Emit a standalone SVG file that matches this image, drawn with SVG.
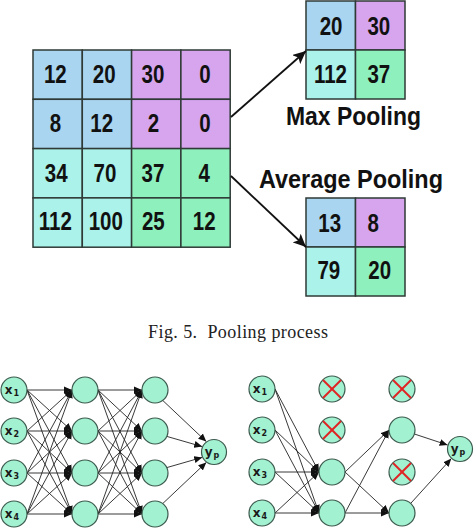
<svg xmlns="http://www.w3.org/2000/svg" width="474" height="530" viewBox="0 0 474 530">
<style>
.c{stroke:#2f3a36;stroke-width:1.5}
.b{fill:#a9d5f0}.p{fill:#d6a5ee}.t{fill:#aaf2ea}.g{fill:#8ef0bd}
.n{font-family:"Liberation Sans",Arial,sans-serif;font-weight:bold;font-size:25px;text-anchor:middle;fill:#111}
.lbl{font-family:"Liberation Sans",Arial,sans-serif;font-weight:bold;font-size:25px;fill:#111}
.cap{font-family:"Liberation Serif","Times New Roman",serif;font-size:18px;fill:#222}
.nd{fill:#a2f1d1;stroke:#3c5a4e;stroke-width:1.2}
.nl{font-family:"DejaVu Sans","Liberation Sans",sans-serif;font-weight:bold;font-size:12px;fill:#1a1a1a;text-anchor:middle}
.e{stroke:#222;stroke-width:0.9;fill:none;marker-end:url(#ah)}
.x{stroke:#e02424;stroke-width:2}
.big{stroke:#111;stroke-width:1.8;fill:none;marker-end:url(#bh)}
</style>
<defs>
<marker id="ah" markerUnits="userSpaceOnUse" markerWidth="9" markerHeight="8" refX="8" refY="4" orient="auto"><path d="M0,0.5 L8,4 L0,7.5 Z" fill="#111"/></marker>
<marker id="bh" markerUnits="userSpaceOnUse" markerWidth="14" markerHeight="12" refX="13" refY="6" orient="auto"><path d="M0,0 L13,6 L0,12 L3,6 Z" fill="#111"/></marker>
</defs>

<g id="input-grid">
<rect class="c b" x="33" y="50" width="49.3" height="49.3"/>
<rect class="c b" x="82.3" y="50" width="49.3" height="49.3"/>
<rect class="c p" x="131.6" y="50" width="49.3" height="49.3"/>
<rect class="c p" x="180.9" y="50" width="49.3" height="49.3"/>
<rect class="c b" x="33" y="99.3" width="49.3" height="49.3"/>
<rect class="c b" x="82.3" y="99.3" width="49.3" height="49.3"/>
<rect class="c p" x="131.6" y="99.3" width="49.3" height="49.3"/>
<rect class="c p" x="180.9" y="99.3" width="49.3" height="49.3"/>
<rect class="c t" x="33" y="148.6" width="49.3" height="49.3"/>
<rect class="c t" x="82.3" y="148.6" width="49.3" height="49.3"/>
<rect class="c g" x="131.6" y="148.6" width="49.3" height="49.3"/>
<rect class="c g" x="180.9" y="148.6" width="49.3" height="49.3"/>
<rect class="c t" x="33" y="197.9" width="49.3" height="49.3"/>
<rect class="c t" x="82.3" y="197.9" width="49.3" height="49.3"/>
<rect class="c g" x="131.6" y="197.9" width="49.3" height="49.3"/>
<rect class="c g" x="180.9" y="197.9" width="49.3" height="49.3"/>
<g transform="scale(0.82,1)">
<text class="n" x="67.5" y="83.3">12</text><text class="n" x="127" y="83.3">20</text><text class="n" x="186.5" y="83.3">30</text><text class="n" x="250" y="83.3">0</text>
<text class="n" x="67.5" y="132">8</text><text class="n" x="124" y="132">12</text><text class="n" x="187" y="132">2</text><text class="n" x="250" y="132">0</text>
<text class="n" x="68.5" y="181.7">34</text><text class="n" x="128" y="181.7">70</text><text class="n" x="186.5" y="181.7">37</text><text class="n" x="249" y="181.7">4</text>
<text class="n" x="67.5" y="230.3">112</text><text class="n" x="129" y="230.3">100</text><text class="n" x="187" y="230.3">25</text><text class="n" x="249" y="230.3">12</text>
</g>
</g>

<g id="max-pool">
<rect class="c b" x="306" y="1" width="49.5" height="49"/>
<rect class="c p" x="355.5" y="1" width="49.5" height="49"/>
<rect class="c t" x="306" y="50" width="49.5" height="49"/>
<rect class="c g" x="355.5" y="50" width="49.5" height="49"/>
<g transform="scale(0.82,1)">
<text class="n" x="403.7" y="35">20</text><text class="n" x="462" y="35">30</text>
<text class="n" x="403" y="83.3">112</text><text class="n" x="462" y="83.3">37</text>
</g>
<text class="lbl" x="286" y="125" textLength="135" lengthAdjust="spacingAndGlyphs">Max Pooling</text>
</g>

<g id="avg-pool">
<rect class="c b" x="306" y="198" width="49.5" height="49"/>
<rect class="c p" x="355.5" y="198" width="49.5" height="49"/>
<rect class="c t" x="306" y="247" width="49.5" height="49"/>
<rect class="c g" x="355.5" y="247" width="49.5" height="49"/>
<g transform="scale(0.82,1)">
<text class="n" x="402" y="231.7">13</text><text class="n" x="455" y="231.7">8</text>
<text class="n" x="401" y="279.3">79</text><text class="n" x="463" y="279.3">20</text>
</g>
<text class="lbl" x="259" y="188" textLength="184" lengthAdjust="spacingAndGlyphs">Average Pooling</text>
</g>

<g id="pool-arrows">
<line class="big" x1="231" y1="117" x2="306" y2="51"/>
<line class="big" x1="231" y1="176" x2="306" y2="247"/>
</g>

<text class="cap" x="148" y="338" textLength="180" lengthAdjust="spacing">Fig. 5.&#160; Pooling process</text>

<g id="connectors">
<line class="e" x1="27" y1="390" x2="72" y2="390"/><line class="e" x1="27" y1="390" x2="72" y2="431"/><line class="e" x1="27" y1="390" x2="72" y2="473"/><line class="e" x1="27" y1="390" x2="72" y2="514"/>
<line class="e" x1="27" y1="431" x2="72" y2="390"/><line class="e" x1="27" y1="431" x2="72" y2="431"/><line class="e" x1="27" y1="431" x2="72" y2="473"/><line class="e" x1="27" y1="431" x2="72" y2="514"/>
<line class="e" x1="27" y1="473" x2="72" y2="390"/><line class="e" x1="27" y1="473" x2="72" y2="431"/><line class="e" x1="27" y1="473" x2="72" y2="473"/><line class="e" x1="27" y1="473" x2="72" y2="514"/>
<line class="e" x1="27" y1="514" x2="72" y2="390"/><line class="e" x1="27" y1="514" x2="72" y2="431"/><line class="e" x1="27" y1="514" x2="72" y2="473"/><line class="e" x1="27" y1="514" x2="72" y2="514"/>
<line class="e" x1="98" y1="390" x2="142" y2="390"/><line class="e" x1="98" y1="390" x2="142" y2="431"/><line class="e" x1="98" y1="390" x2="142" y2="473"/><line class="e" x1="98" y1="390" x2="142" y2="514"/>
<line class="e" x1="98" y1="431" x2="142" y2="390"/><line class="e" x1="98" y1="431" x2="142" y2="431"/><line class="e" x1="98" y1="431" x2="142" y2="473"/><line class="e" x1="98" y1="431" x2="142" y2="514"/>
<line class="e" x1="98" y1="473" x2="142" y2="390"/><line class="e" x1="98" y1="473" x2="142" y2="431"/><line class="e" x1="98" y1="473" x2="142" y2="473"/><line class="e" x1="98" y1="473" x2="142" y2="514"/>
<line class="e" x1="98" y1="514" x2="142" y2="390"/><line class="e" x1="98" y1="514" x2="142" y2="431"/><line class="e" x1="98" y1="514" x2="142" y2="473"/><line class="e" x1="98" y1="514" x2="142" y2="514"/>
<line class="e" x1="162.7" y1="400.4" x2="206.3" y2="441.6"/>
<line class="e" x1="166.8" y1="436.4" x2="202.2" y2="446.6"/>
<line class="e" x1="166.8" y1="467.6" x2="202.2" y2="457.4"/>
<line class="e" x1="162.7" y1="503.6" x2="206.3" y2="462.4"/>
<line class="e" x1="275" y1="389" x2="319" y2="472"/><line class="e" x1="275" y1="389" x2="319" y2="513"/>
<line class="e" x1="275" y1="430" x2="319" y2="472"/><line class="e" x1="275" y1="430" x2="319" y2="513"/>
<line class="e" x1="275" y1="472" x2="319" y2="472"/><line class="e" x1="275" y1="472" x2="319" y2="513"/>
<line class="e" x1="275" y1="513" x2="319" y2="472"/><line class="e" x1="275" y1="513" x2="319" y2="513"/>
<line class="e" x1="345" y1="472" x2="389" y2="430"/><line class="e" x1="345" y1="472" x2="389" y2="513"/>
<line class="e" x1="345" y1="513" x2="389" y2="430"/><line class="e" x1="345" y1="513" x2="389" y2="513"/>
<line class="e" x1="414.4" y1="434" x2="447.6" y2="445"/>
<line class="e" x1="410.7" y1="503.4" x2="451.3" y2="458.6"/>
</g>

<g id="left-net">
<g id="l-x1"><circle class="nd" cx="14" cy="390" r="13"/><text class="nl" x="12" y="394">x<tspan font-size="8" dx="1" dy="2">1</tspan></text></g>
<g id="l-x2"><circle class="nd" cx="14" cy="431" r="13"/><text class="nl" x="12" y="435">x<tspan font-size="8" dx="1" dy="2">2</tspan></text></g>
<g id="l-x3"><circle class="nd" cx="14" cy="473" r="13"/><text class="nl" x="12" y="477">x<tspan font-size="8" dx="1" dy="2">3</tspan></text></g>
<g id="l-x4"><circle class="nd" cx="14" cy="514" r="13"/><text class="nl" x="12" y="518">x<tspan font-size="8" dx="1" dy="2">4</tspan></text></g>
<g id="l-h11"><circle class="nd" cx="85" cy="390" r="13"/></g>
<g id="l-h12"><circle class="nd" cx="85" cy="431" r="13"/></g>
<g id="l-h13"><circle class="nd" cx="85" cy="473" r="13"/></g>
<g id="l-h14"><circle class="nd" cx="85" cy="514" r="13"/></g>
<g id="l-h21"><circle class="nd" cx="155" cy="390" r="13"/></g>
<g id="l-h22"><circle class="nd" cx="155" cy="431" r="13"/></g>
<g id="l-h23"><circle class="nd" cx="155" cy="473" r="13"/></g>
<g id="l-h24"><circle class="nd" cx="155" cy="514" r="13"/></g>
<g id="l-y"><circle class="nd" cx="214" cy="452" r="12.5"/><text class="nl" x="212" y="456">y<tspan font-size="8" dx="1" dy="2">p</tspan></text></g>
</g>

<g id="right-net">
<g id="r-x1"><circle class="nd" cx="262" cy="389" r="13"/><text class="nl" x="260" y="393">x<tspan font-size="8" dx="1" dy="2">1</tspan></text></g>
<g id="r-x2"><circle class="nd" cx="262" cy="430" r="13"/><text class="nl" x="260" y="434">x<tspan font-size="8" dx="1" dy="2">2</tspan></text></g>
<g id="r-x3"><circle class="nd" cx="262" cy="472" r="13"/><text class="nl" x="260" y="476">x<tspan font-size="8" dx="1" dy="2">3</tspan></text></g>
<g id="r-x4"><circle class="nd" cx="262" cy="513" r="13"/><text class="nl" x="260" y="517">x<tspan font-size="8" dx="1" dy="2">4</tspan></text></g>
<g id="r-h11"><circle class="nd" cx="332" cy="389" r="13"/><line class="x" x1="323" y1="380" x2="341" y2="398"/><line class="x" x1="341" y1="380" x2="323" y2="398"/></g>
<g id="r-h12"><circle class="nd" cx="332" cy="430" r="13"/><line class="x" x1="323" y1="421" x2="341" y2="439"/><line class="x" x1="341" y1="421" x2="323" y2="439"/></g>
<g id="r-h13"><circle class="nd" cx="332" cy="472" r="13"/></g>
<g id="r-h14"><circle class="nd" cx="332" cy="513" r="13"/></g>
<g id="r-h21"><circle class="nd" cx="402" cy="389" r="13"/><line class="x" x1="393" y1="380" x2="411" y2="398"/><line class="x" x1="411" y1="380" x2="393" y2="398"/></g>
<g id="r-h22"><circle class="nd" cx="402" cy="430" r="13"/></g>
<g id="r-h23"><circle class="nd" cx="402" cy="472" r="13"/><line class="x" x1="393" y1="463" x2="411" y2="481"/><line class="x" x1="411" y1="463" x2="393" y2="481"/></g>
<g id="r-h24"><circle class="nd" cx="402" cy="513" r="13"/></g>
<g id="r-y"><circle class="nd" cx="460" cy="449" r="12.5"/><text class="nl" x="458" y="453">y<tspan font-size="8" dx="1" dy="2">p</tspan></text></g>
</g>
</svg>
